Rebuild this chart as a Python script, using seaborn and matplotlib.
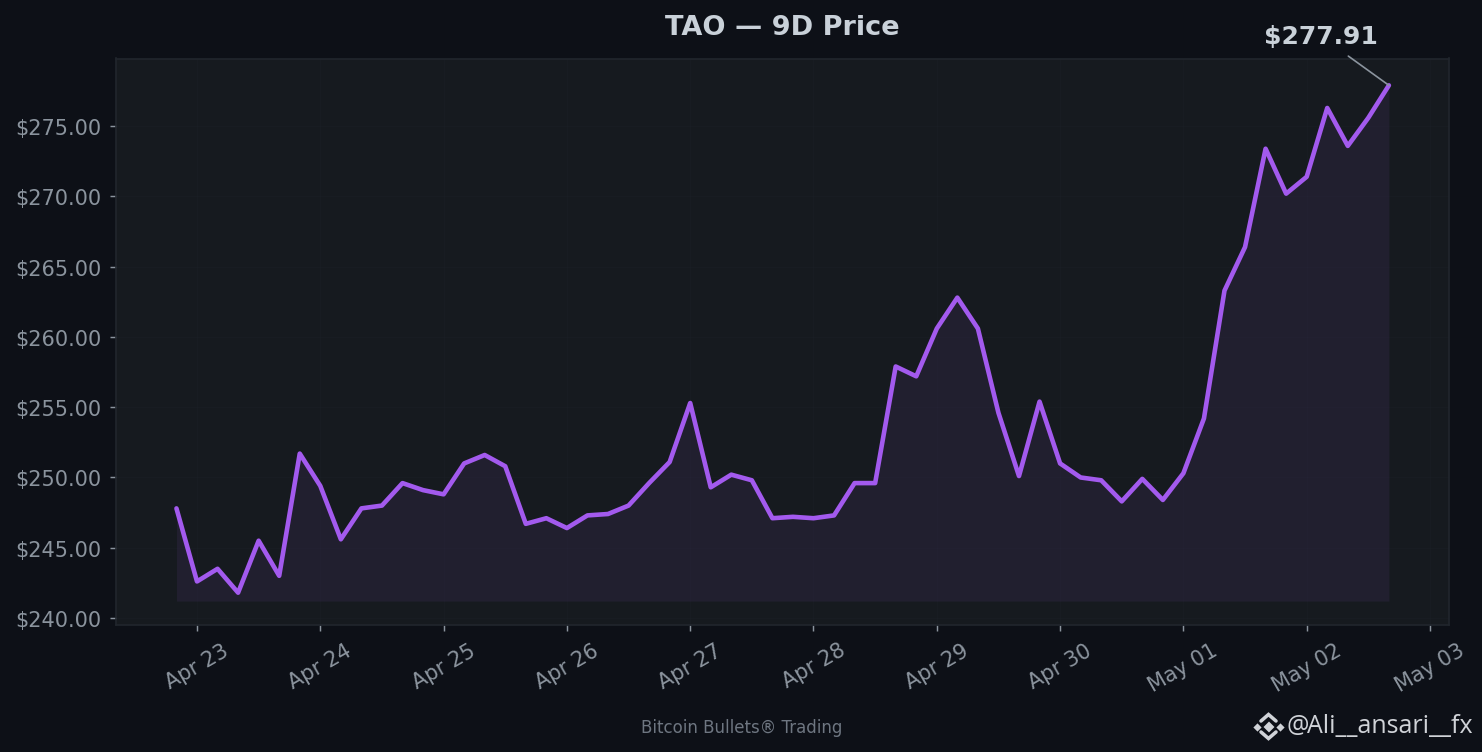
import pandas as pd
import seaborn as sns
import matplotlib.pyplot as plt
import matplotlib.dates as mdates
from matplotlib.lines import Line2D
from matplotlib.ticker import FuncFormatter

# 4h closes
start = "2025-04-22 20:00"
prices = [
    247.8, 242.6, 243.5, 241.8, 245.5, 243.0, 251.7, 249.4, 245.6, 247.8,
    248.0, 249.6, 249.1, 248.8, 251.0, 251.6, 250.8, 246.7, 247.1, 246.4,
    247.3, 247.4, 248.0, 249.6, 251.1, 255.3, 249.3, 250.2, 249.8, 247.1,
    247.2, 247.1, 247.3, 249.6, 249.6, 257.9, 257.2, 260.6, 262.8, 260.6,
    254.6, 250.1, 255.4, 251.0, 250.0, 249.8, 248.3, 249.9, 248.4, 250.3,
    254.2, 263.3, 266.4, 273.4, 270.2, 271.4, 276.3, 273.6, 275.6, 277.91,
]
fill_floor = 241.2
last_label = "$277.91"

BG = "#0d1017"
PANEL = "#161a1f"
PURPLE = "#a35aee"
MUTED = "#8b949e"

sns.set_theme(style="dark", rc={
    "figure.facecolor": BG,
    "axes.facecolor": PANEL,
    "savefig.facecolor": BG,
})
plt.rcParams["font.family"] = ["DejaVu Sans"]

df = pd.DataFrame({
    "time": pd.date_range(start, periods=len(prices), freq="4h"),
    "price": prices,
})

fig, ax = plt.subplots(figsize=(9.88, 5.02), dpi=150)
fig.subplots_adjust(left=116 / 1482, right=1449 / 1482, top=1 - 59.5 / 753, bottom=1 - 626 / 753)

ax.fill_between(df["time"], df["price"], fill_floor, color=PURPLE, alpha=0.08, linewidth=0)
sns.lineplot(data=df, x="time", y="price", ax=ax, color=PURPLE, linewidth=2.2)

ax.set_xlim(pd.Timestamp("2025-04-22 08:14"), pd.Timestamp("2025-05-03 03:42"))
ax.set_ylim(239.5, 279.82)
ax.set_yticks(range(240, 276, 5))
ax.yaxis.set_major_formatter(FuncFormatter(lambda v, _: f"${v:,.2f}"))
ax.xaxis.set_major_locator(mdates.DayLocator())
ax.xaxis.set_major_formatter(mdates.DateFormatter("%b %d"))
ax.tick_params(axis="x", colors=MUTED, labelsize=10, labelrotation=30, length=3, width=0.7, pad=4)
ax.tick_params(axis="y", colors=MUTED, labelsize=10, length=3, width=0.7, pad=4)
ax.tick_params(bottom=True, left=True)
ax.set_xlabel("")
ax.set_ylabel("")

ax.grid(True, color="#1c2128", linewidth=0.4, alpha=0.5)
for side in ax.spines.values():
    side.set_color("#21262d")
    side.set_linewidth(0.8)

ax.set_title("TAO — 9D Price", color="#c9d1d9", fontsize=13, fontweight="bold", pad=12)

ax.annotate(
    last_label,
    xy=(df["time"].iloc[-1], df["price"].iloc[-1]),
    xytext=(-32.6, 23.5), textcoords="offset points",
    ha="center", va="center",
    color="#c9d1d9", fontsize=12, fontweight="bold",
    arrowprops=dict(arrowstyle="-", color=MUTED, linewidth=0.8, shrinkA=2.5, shrinkB=0),
    annotation_clip=False,
)

fig.text(742 / 1482, 1 - 728.5 / 753, "Bitcoin Bullets® Trading", color="#6e7681", fontsize=8, ha="center", va="center")

# watermark, logo drawn in figure pixels
WM = "#d0d3d8"
fig.text(1473 / 1482, 1 - 727 / 753, "Ali__ansari__fx", color=WM, fontsize=12, ha="right", va="center",
         family=["Open Sans", "DejaVu Sans"])
fig.text(1298 / 1482, 1 - 727 / 753, "@", color=WM, fontsize=12, ha="center", va="center",
         family=["Open Sans", "DejaVu Sans"])


def logo_line(xs, ys, **kw):
    fig.add_artist(Line2D([x / 1482 for x in xs], [1 - y / 753 for y in ys],
                          color=WM, transform=fig.transFigure, **kw))


logo_line([1261, 1268.5, 1276], [722, 715.5, 722], linewidth=1.7, solid_joinstyle="miter")
logo_line([1261, 1268.5, 1276], [733, 739.5, 733], linewidth=1.7, solid_joinstyle="miter")
logo_line([1268.5], [727.5], marker="D", markersize=2.9, linewidth=0)
logo_line([1257], [727.5], marker="D", markersize=1.8, linewidth=0)
logo_line([1280], [727.5], marker="D", markersize=1.8, linewidth=0)

fig.savefig("out.png", dpi=150)
